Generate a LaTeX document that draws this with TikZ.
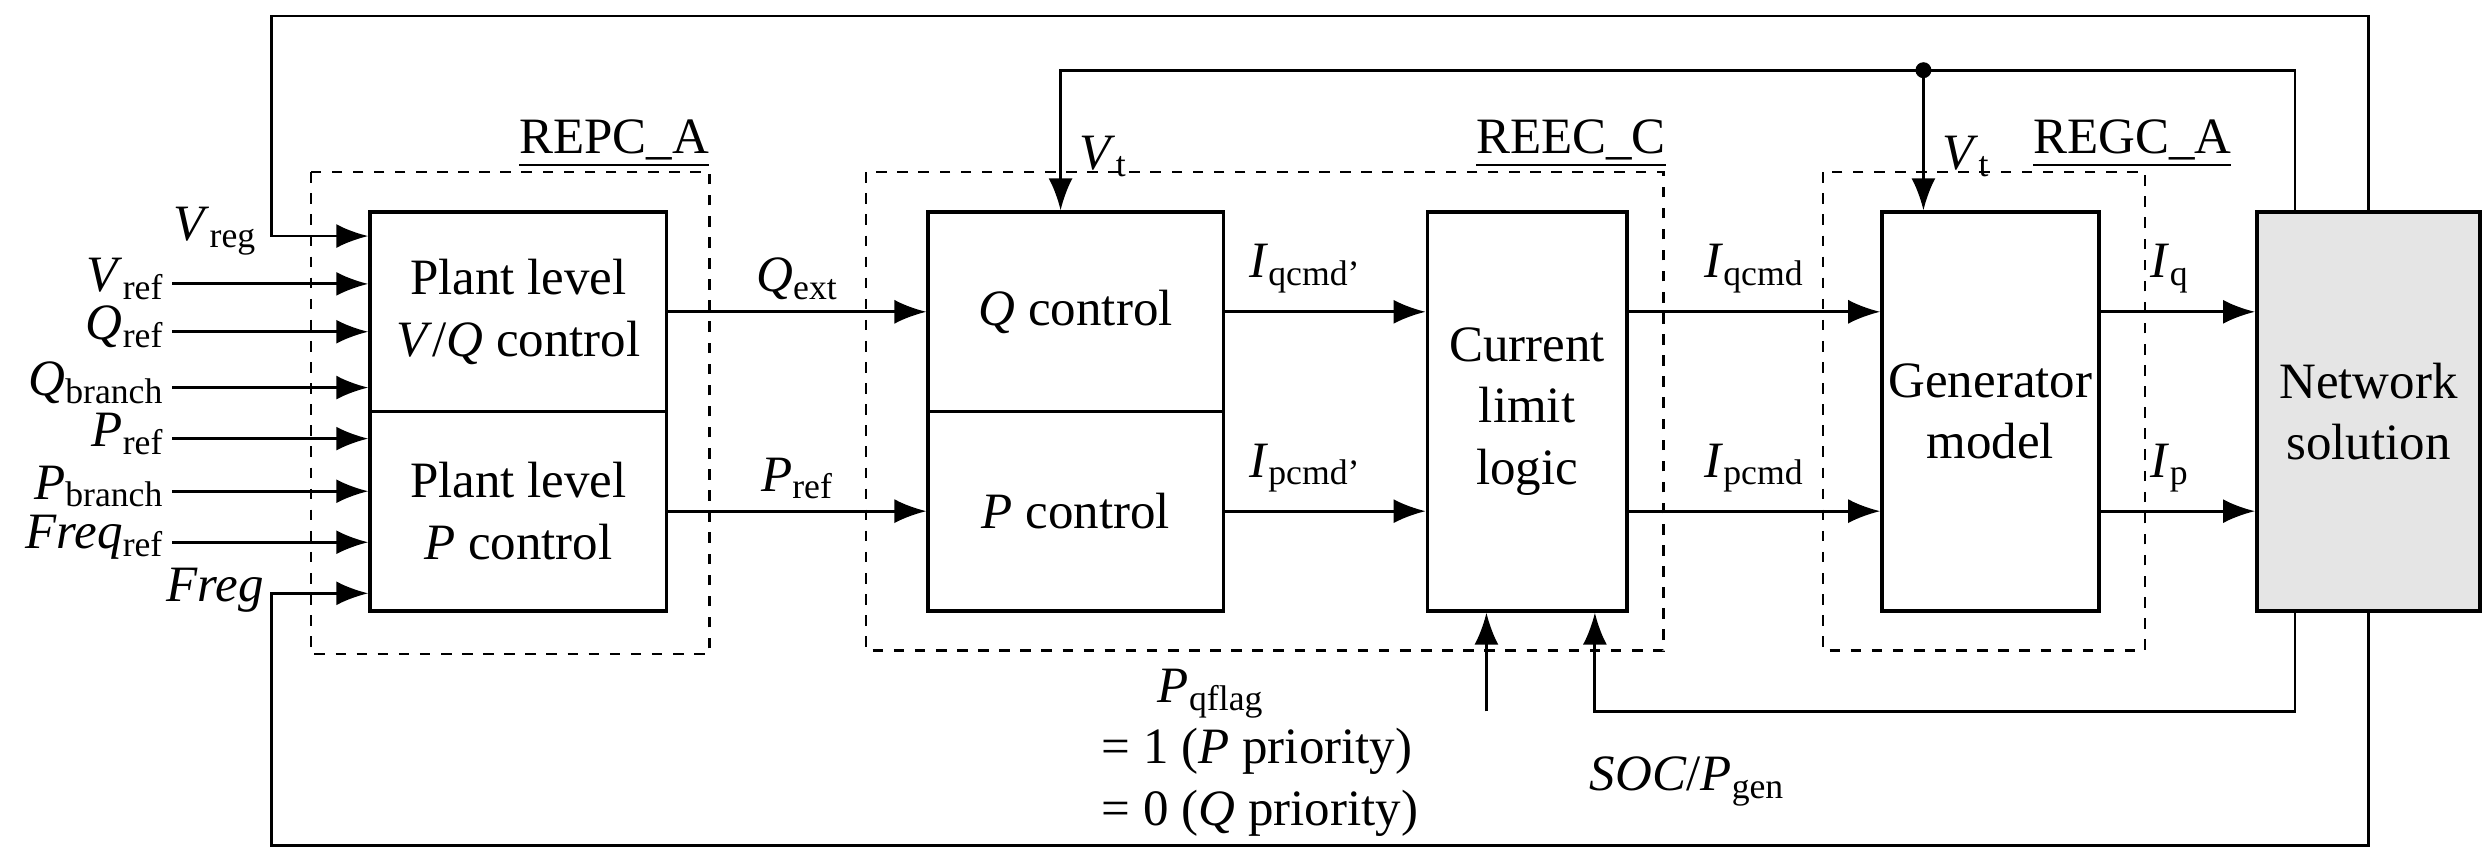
\documentclass[tikz,border=0pt]{standalone}
\usepackage{fontspec}
\setmainfont{Liberation Serif}
\usetikzlibrary{arrows.meta,calc}
\newcommand\sbx[1]{\textsubscript{#1}}
\begin{document}
\begin{tikzpicture}[x=0.01595cm,y=-0.01595cm,
	font=\rmfamily\fontsize{14.5}{17.5}\selectfont,
	line width=0.8pt,
	>={Latex[length=3.2mm,width=2.4mm]},
	blk/.style={draw,line width=1pt,rectangle,inner sep=0pt,align=center},
	grp/.style={draw,dashed,line width=0.7pt},
	lbl/.style={inner sep=1pt}]
\useasboundingbox (0,0) rectangle (1560,540);

% blocks
\node[blk,minimum width=186*0.01595cm,minimum height=125*0.01595cm] (pvq) at (325,195.5) {Plant level\\\textit{V}/\textit{Q} control};
\node[blk,minimum width=186*0.01595cm,minimum height=125*0.01595cm] (pp) at (325,320.5) {Plant level\\\textit{P} control};
\node[blk,minimum width=185*0.01595cm,minimum height=125*0.01595cm] (qc) at (674.5,195.5) {\textit{Q} control};
\node[blk,minimum width=185*0.01595cm,minimum height=125*0.01595cm] (pc) at (674.5,320.5) {\textit{P} control};
\node[blk,minimum width=125*0.01595cm,minimum height=250*0.01595cm] (cl) at (957.5,258) {Current\\limit\\logic};
\node[blk,minimum width=136*0.01595cm,minimum height=250*0.01595cm] (gm) at (1248,258) {Generator\\model};
\node[blk,fill=gray!20,minimum width=140*0.01595cm,minimum height=250*0.01595cm] (ns) at (1485,258) {Network\\solution};

% groups
\draw[grp] (195,108) rectangle (445,410);
\draw[grp] (543,108) rectangle (1043,408);
\draw[grp] (1143,108) rectangle (1345,408);
\node[lbl] at (385,90) {\underline{REPC\_A}};
\node[lbl] at (985,90) {\underline{REEC\_C}};
\node[lbl] at (1337,90) {\underline{REGC\_A}};

% inputs
\foreach \y/\t in {178/{\textit{V}\sbx{ref}},208/{\textit{Q}\sbx{ref}},243/{\textit{Q}\sbx{branch}},275/{\textit{P}\sbx{ref}},308/{\textit{P}\sbx{branch}},340/{\textit{Freq}\sbx{ref}}}{
  \coordinate (in\y) at (108,\y);
  \draw[->] (in\y) -- (in\y -| pvq.west);
  \node[lbl,anchor=east] at ($(in\y)+(-2,-3)$) {\t};
}
\node[lbl] at (135,145) {\textit{V}\sbx{reg}};
\node[lbl] at (135,370) {\textit{Freg}};

% feedback loops
\coordinate (vreg) at (170,148);
\coordinate (freg) at (170,372);
\draw[->] (ns.north) |- (170,10) -- (vreg) -- (vreg -| pvq.west);
\draw[->] (ns.south) |- (170,530) -- (freg) -- (freg -| pp.west);
\coordinate (dot) at (1206,44);
\draw[->] ($(ns.north)+(-46,0)$) |- (665,44) -- ($(qc.north)+(-9.5,0)$);
\draw[->] (dot) -- (dot |- gm.north);
\fill (dot) circle (5);
\node[lbl] at (692,98) {\textit{V}\sbx{t}};
\node[lbl] at (1233,98) {\textit{V}\sbx{t}};

% forward paths
\draw[->] (pvq.east) -- node[lbl,above=2pt] {\textit{Q}\sbx{ext}} (qc.west);
\draw[->] (pp.east) -- node[lbl,above=2pt] {\textit{P}\sbx{ref}} (pc.west);
\draw[->] (qc.east) -- node[lbl,above=4pt,pos=0.4] {\textit{I}\sbx{qcmd'}} (qc.east -| cl.west);
\draw[->] (pc.east) -- node[lbl,above=4pt,pos=0.4] {\textit{I}\sbx{pcmd'}} (pc.east -| cl.west);
\draw[->] (qc.east -| cl.east) -- node[lbl,above=4pt] {\textit{I}\sbx{qcmd}} (qc.east -| gm.west);
\draw[->] (pc.east -| cl.east) -- node[lbl,above=4pt] {\textit{I}\sbx{pcmd}} (pc.east -| gm.west);
\draw[->] (qc.east -| gm.east) -- node[lbl,above=4pt,pos=0.45] {\textit{I}\sbx{q}} (qc.east -| ns.west);
\draw[->] (pc.east -| gm.east) -- node[lbl,above=4pt,pos=0.45] {\textit{I}\sbx{p}} (pc.east -| ns.west);

% current limit inputs
\coordinate (pq) at (932,446);
\coordinate (soc) at (1000,446);
\draw[->] (pq) -- (pq |- cl.south);
\draw[->] ($(ns.south)+(-46,0)$) |- (soc) -- (soc |- cl.south);
\node[lbl,align=left] at (790,472) {\hspace*{1.1em}\textit{P}\sbx{qflag}\\= 1 (\textit{P} priority)\\= 0 (\textit{Q} priority)};
\node[lbl] at (1058,490) {\textit{SOC}/\textit{P}\sbx{gen}};
\end{tikzpicture}
\end{document}
